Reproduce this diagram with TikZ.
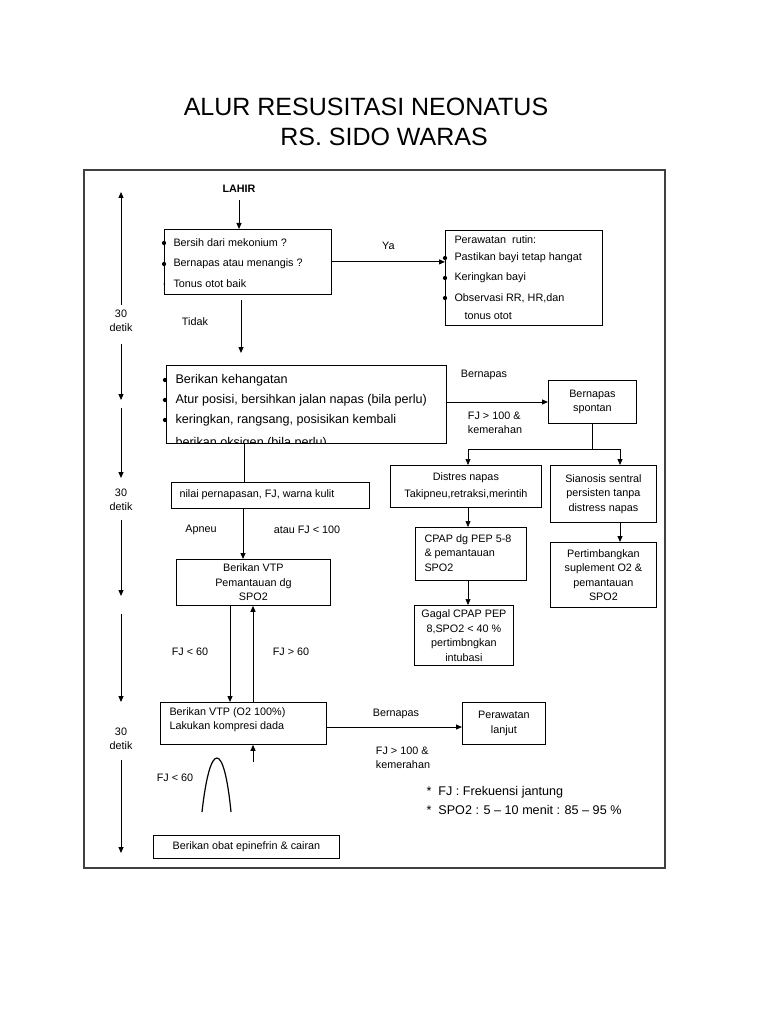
\documentclass[tikz,border=0pt]{standalone}
\usepackage{fontspec}
\setmainfont{Liberation Sans}
\usetikzlibrary{arrows.meta}
\begin{document}
\begin{tikzpicture}[x=1pt,y=-1pt,
  box/.style={draw,line width=0.8pt,inner sep=0pt},
  t/.style={font=\fontsize{10.8}{14.5}\selectfont,align=center},
  tl/.style={font=\fontsize{10.8}{14.5}\selectfont,anchor=west},
  big/.style={font=\fontsize{12.6}{15}\selectfont,anchor=west},
  arr/.style={-{Triangle[length=6pt,width=5pt]},line width=1pt},
  ln/.style={line width=1pt},
  bul/.style={circle,fill,inner sep=1.5pt}]
\useasboundingbox (0,0) rectangle (768,1024);
\node[font=\fontsize{25}{30}\selectfont] (t1) at (366,107) {ALUR RESUSITASI NEONATUS};
\node[font=\fontsize{25}{30}\selectfont] (t2) at (384,137) {RS. SIDO WARAS};
\draw[line width=1.2pt,draw=black!75] (84,170) rectangle (665,868);
% left timeline
\node[t] (d1) at (121,321) {30\\detik};
\node[t] (d2) at (121,500) {30\\detik};
\node[t] (d3) at (121,739) {30\\detik};
\coordinate (a1) at (121,305); \coordinate (a1e) at (121,192);
\coordinate (a2) at (121,344); \coordinate (a2e) at (121,400);
\coordinate (a3) at (121,408); \coordinate (a3e) at (121,478);
\coordinate (a4) at (121,520); \coordinate (a4e) at (121,596);
\coordinate (a5) at (121,614); \coordinate (a5e) at (121,702);
\coordinate (a6) at (121,760); \coordinate (a6e) at (121,853);
\foreach \s/\e in {a1/a1e,a2/a2e,a3/a3e,a4/a4e,a5/a5e,a6/a6e} \draw[arr] (\s) -- (\e);
% LAHIR
\node[font=\fontsize{10.8}{12}\selectfont\bfseries] (lahir) at (239,189) {LAHIR};
\node[box,minimum width=167,minimum height=65,anchor=north west] (b1) at (164,229) {};
\node[tl] at (170,243) {Bersih dari mekonium ?};
\node[tl] at (170,264) {Bernapas atau menangis ?};
\node[tl] at (170,284) {Tonus otot baik};
\node[bul] at (164,243) {}; \node[bul] at (164,264) {}; \node[circle,fill,inner sep=0.5pt] at (164,284) {};
\draw[arr] (239,200) -- (b1.north -| 239,0);
% box2
\node[box,minimum width=157,minimum height=95,anchor=north west] (b2) at (445,230) {};
\node[tl] at (451,240) {Perawatan \ rutin:};
\node[tl] at (451,258) {Pastikan bayi tetap hangat};
\node[tl] at (451,278) {Keringkan bayi};
\node[tl] at (451,298) {Observasi RR, HR,dan};
\node[tl] at (461,316) {tonus otot};
\foreach \y in {258,278,298} \node[bul] at (445,\y) {};
\draw[arr] (b1.east) -- (b2.west |- b1.east) node[midway,above=8pt,t] {Ya};
% box3
\node[box,minimum width=280,minimum height=78,anchor=north west] (b3) at (166,365) {};
\begin{scope}
\clip (166,365) rectangle (446,443);
\node[big] at (172,380) {Berikan kehangatan};
\node[big] at (172,400) {Atur posisi, bersihkan jalan napas (bila perlu)};
\node[big] at (172,420) {keringkan, rangsang, posisikan kembali};
\node[big] at (172,443) {berikan oksigen (bila perlu)};
\end{scope}
\foreach \y in {380,400,420} \node[bul] at (165,\y) {};
\draw[arr] (241,300) -- (241,353);
\node[t] at (195,322) {Tidak};
% spontan
\node[box,minimum width=88,minimum height=43,anchor=north west] (sp) at (548,380) {};
\node[t] at (sp.center) {Bernapas\\spontan};
\draw[arr] (446,402) -- (sp.west |- 0,402);
\node[t] at (484,375) {Bernapas};
\node[t,align=left] at (495,423) {FJ > 100 \&\\kemerahan};
\node[box,minimum width=151,minimum height=42,anchor=north west] (ds) at (390,465) {};
\node[t] at (ds.center) {Distres napas\\[2pt]Takipneu,retraksi,merintih};
\node[box,minimum width=106,minimum height=57,anchor=north west] (si) at (550,465) {};
\node[t] at (si.center) {Sianosis sentral\\persisten tanpa\\distress napas};
\coordinate (sj) at (592,449);
\draw[ln] (sp.south -| 592,0) -- (sj);
\draw[arr,line width=0.6pt] (sj) -- (468,449) -- (ds.north -| 468,0);
\draw[arr] (sj) -- (620,449) -- (si.north -| 620,0);
\node[box,minimum width=111,minimum height=53,anchor=north west] (cp) at (415,527) {};
\node[t,align=left,anchor=west] at (421,553) {CPAP dg PEP 5-8\\\& pemantauan\\SPO2};
\draw[arr,line width=0.5pt] (ds.south -| 468,0) -- (cp.north -| 468,0);
\node[box,minimum width=99,minimum height=60,anchor=north west] (gg) at (414,605) {};
\node[t] at (gg.center) {Gagal CPAP PEP\\8,SPO2 < 40 \%\\pertimbngkan\\intubasi};
\draw[arr,line width=0.5pt] (cp.south -| 468,0) -- (gg.north -| 468,0);
\node[box,minimum width=106,minimum height=65,anchor=north west] (pt) at (550,542) {};
\node[t] at (pt.center) {Pertimbangkan\\suplement O2 \&\\pemantauan\\SPO2};
\draw[arr] (si.south -| 620,0) -- (pt.north -| 620,0);
% nilai
\node[box,minimum width=198,minimum height=26,anchor=north west] (nl) at (171,482) {};
\node[tl] at (176,495) {nilai pernapasan, FJ, warna kulit};
\draw[ln] (b3.south -| 244,0) -- (nl.north -| 244,0);
\node[box,minimum width=154,minimum height=46,anchor=north west] (vt) at (176,559) {};
\node[t] at (vt.center) {Berikan VTP\\Pemantauan dg\\SPO2};
\draw[arr] (nl.south -| 243,0) -- (vt.north -| 243,0);
\node[t] at (201,530) {Apneu};
\node[t] at (307,530) {atau FJ < 100};
\node[box,minimum width=166,minimum height=42,anchor=north west] (vo) at (160,702) {};
\node[tl] at (166,713) {Berikan VTP (O2 100\%)};
\node[tl] at (166,727) {Lakukan kompresi dada};
\draw[arr] (vt.south -| 230,0) -- (vo.north -| 230,0);
\draw[arr] (vo.north -| 253,0) -- (vt.south -| 253,0);
\node[t] at (190,652) {FJ < 60};
\node[t] at (291,652) {FJ > 60};
\node[box,minimum width=83,minimum height=42,anchor=north west] (pl) at (462,702) {};
\node[t] at (pl.center) {Perawatan\\lanjut};
\draw[arr] (vo.east |- 0,727) -- (pl.west |- 0,727);
\node[t] at (396,714) {Bernapas};
\node[t,align=left] at (403,758) {FJ > 100 \&\\kemerahan};
\coordinate (up) at (253,762);
\draw[arr] (up) -- (vo.south -| 253,0);
\draw[line width=1.2pt] (202,812) .. controls (210,740) and (224,740) .. (231,812);
\node[t] at (175,778) {FJ < 60};
\node[big] at (423,792) {* \ FJ : Frekuensi jantung};
\node[big] at (423,810) {* \ SPO2 : 5 -- 10 menit : 85 -- 95 \%};
\node[box,minimum width=186,minimum height=23,anchor=north west] (ep) at (153,835) {};
\node[t] at (ep.center) {Berikan obat epinefrin \& cairan};
\end{tikzpicture}
\end{document}
